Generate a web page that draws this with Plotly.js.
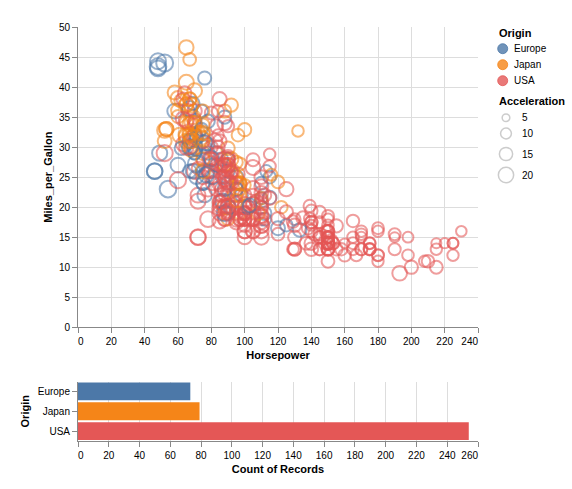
<!DOCTYPE html>
<html>
<head>
<meta charset="utf-8">
<script src="https://cdn.plot.ly/plotly-3.0.1.min.js"></script>
<style>html,body{margin:0;padding:0;background:#fff;}#chart{width:572px;height:489px;}</style>
</head>
<body>
<div id="chart"></div>
<script>
// ---- data ----
const origins = ['Europe', 'Japan', 'USA'];
const originColors = ['#4c78a8', '#f58518', '#e45756'];
const originCounts = [73, 79, 254];
const accelLegendValues = [5, 10, 15, 20];
const hpTicks = [0, 20, 40, 60, 80, 100, 120, 140, 160, 180, 200, 220, 240];
const mpgTicks = [0, 5, 10, 15, 20, 25, 30, 35, 40, 45, 50];
const countTicks = [0, 20, 40, 60, 80, 100, 120, 140, 160, 180, 200, 220, 240, 260];

const horsepower = [
130,165,150,150,140,198,220,215,225,190,
170,160,150,225,95,95,97,85,88,46,
87,90,95,113,90,215,200,210,193,88,
90,95,100,105,100,88,100,165,175,153,
150,180,170,175,110,72,100,88,86,90,
70,76,65,69,60,70,95,80,54,90,
86,165,175,150,153,150,208,155,160,190,
97,150,130,140,150,112,76,87,69,86,
92,97,80,88,175,150,145,137,150,198,
150,158,150,215,225,175,105,100,100,88,
95,46,150,167,170,180,100,88,72,94,
90,85,107,90,145,230,49,75,91,112,
150,110,122,180,95,100,100,67,80,65,
75,100,110,105,140,150,150,140,150,83,
67,78,52,61,75,75,75,97,93,67,
95,105,72,72,170,145,150,148,110,105,
110,95,110,110,129,75,83,100,78,96,
71,97,97,70,90,95,88,98,115,53,
86,81,92,79,83,140,150,120,152,100,
105,81,90,52,60,70,53,100,78,110,
95,71,70,75,72,102,150,88,108,120,
180,145,130,150,68,80,58,96,70,145,
110,145,130,110,105,100,98,180,170,190,
149,78,88,75,89,63,83,67,78,97,
110,110,48,66,52,70,60,110,140,139,
105,95,85,88,100,90,105,85,110,120,
145,165,139,140,68,95,97,75,95,105,
85,97,103,125,115,133,71,68,115,85,
88,90,110,130,129,138,135,155,142,125,
150,71,65,80,80,77,125,71,90,70,
70,65,69,90,115,115,90,76,60,70,
65,90,88,90,90,78,90,75,92,75,
65,105,65,48,48,67,67,67,67,62,
132,100,88,72,84,84,92,110,84,58,
64,60,67,65,62,68,63,65,65,74,
75,75,100,74,80,76,116,120,110,105,
88,85,88,88,88,85,84,90,92,74,
68,68,63,70,88,75,70,67,67,67,
110,85,92,112,96,84,90,86,52,84,
79,82];

const milesPerGallon = [
18,15,18,16,17,15,14,14,14,15,
15,14,15,14,24,22,18,21,27,26,
25,24,25,26,21,10,10,11,9,27,
28,25,19,16,17,19,18,14,14,14,
14,12,13,13,18,22,19,18,23,28,
30,30,31,35,27,26,24,25,23,20,
21,13,14,15,14,17,11,13,12,13,
19,15,13,13,14,18,22,21,26,22,
28,23,28,27,13,14,13,14,15,12,
13,13,14,13,12,13,18,16,18,18,
23,26,11,12,13,12,18,20,21,22,
18,19,21,26,15,16,29,24,20,19,
15,24,20,11,20,19,15,31,26,32,
25,16,16,18,16,13,14,14,14,29,
26,26,31,32,28,24,26,24,26,31,
19,18,15,15,16,15,16,14,17,16,
15,18,21,20,13,29,23,20,23,24,
25,24,18,29,19,23,23,22,25,33,
28,25,25,26,27,17.5,16,15.5,14.5,22,
22,24,22.5,29,24.5,29,33,20,18,18.5,
17.5,29.5,32,28,26.5,20,13,19,19,16.5,
16.5,13,13,13,31.5,30,36,25.5,33.5,17.5,
17,15.5,15,17.5,20.5,19,18.5,16,15.5,15.5,
16,29,24.5,26,25.5,30.5,33.5,30,30.5,22,
21.5,21.5,43.1,36.1,32.8,39.4,36.1,19.9,19.4,20.2,
19.2,20.5,20.2,25.1,20.5,19.4,20.6,20.8,18.6,18.1,
19.2,17.7,18.1,17.5,30,27.5,27.2,30.9,21.1,23.2,
23.8,23.9,20.3,17,21.6,16.2,31.5,29.5,21.5,19.8,
22.3,20.2,20.6,17,17.6,16.5,18.2,16.9,15.5,19.2,
18.5,31.9,34.1,35.7,27.4,25.4,23,27.2,23.9,34.2,
34.5,31.8,37.3,28.4,28.8,26.8,33.5,41.5,38.1,32.1,
37.2,28,26.4,24.3,19.1,34.3,29.8,31.3,37,32.2,
46.6,27.9,40.8,44.3,43.4,36.4,30,44.6,33.8,29.8,
32.7,23.7,35,32.4,27.2,26.6,25.8,23.5,30,39.1,
39,35.1,32.3,37,37.7,34.1,34.7,34.4,29.9,33,
33.7,32.4,32.9,31.6,28.1,30.7,25.4,24.2,22.4,26.6,
20.2,17.6,28,27,34,31,29,27,24,36,
37,31,38,36,36,36,34,38,32,38,
25,38,26,22,32,36,27,27,44,32,
28,31];

const acceleration = [
12,11.5,11,12,10.5,10,9,8.5,10,8.5,
10,8,9.5,10,15,15.5,15.5,16,14.5,20.5,
17.5,14.5,17.5,12.5,15,14,15,13.5,18.5,14.5,
15.5,14,13,15.5,15.5,15.5,15.5,12,11.5,13.5,
13,11.5,12,12,13.5,19,15,14.5,14,14,
20,14.5,19,18,19,20.5,15.5,17,23.5,19.5,
16.5,12,12,13.5,13,11.5,11,13.5,13.5,12.5,
13.5,12.5,14,16,14,14.5,18,19.5,18,16,
17,14.5,15,16.5,13,11.5,13,14.5,12.5,11.5,
12,13,14.5,11,11,11,16.5,18,16,16.5,
16,21,14,12.5,13,12.5,15,19,19.5,16.5,
13.5,18.5,14,15.5,13,9.5,19.5,15.5,14,15.5,
11,14,13.5,11,16.5,17,17,19,16.5,21,
17,17,18,16.5,14,14.5,13.5,16,15.5,16.5,
15.5,14.5,16.5,19,14.5,15.5,14,15,15.5,16,
16,16,21,19.5,11.5,14,14.5,13.5,21,18.5,
19,19,15,13.5,12,16,17,16,18.5,13.5,
16.5,17,14.5,14,17,15,17,14.5,13.5,17.5,
15.5,16.9,14.9,17.7,15.3,13,13,13.9,12.8,15.4,
14.5,17.6,17.6,22.2,22.1,14.2,17.4,17.7,21,16.2,
17.8,12.2,17,16.4,13.6,15.7,13.2,21.9,15.5,16.7,
12.1,12,15,14,18.5,14.8,18.6,15.5,16.8,12.5,
19,13.7,14.9,16.4,16.9,17.7,19,11.1,11.4,12.2,
14.5,14.5,16,18.2,15.8,17,15.9,16.4,14.1,14.5,
12.8,13.5,21.5,14.4,19.4,18.6,16.4,15.5,13.2,12.8,
19.2,18.2,15.8,15.4,17.2,17.2,15.8,16.7,18.7,15.1,
13.2,13.4,11.2,13.7,16.5,14.2,14.7,14.5,14.8,16.7,
17.6,14.9,15.9,13.6,15.7,15.8,14.9,16.6,15.4,18.2,
17.3,18.2,16.6,15.4,13.4,13.2,15.2,14.9,14.3,15,
13,14,15.2,14.4,15,20.1,17.4,24.8,22.2,13.2,
14.9,19.2,14.7,16,11.3,12.9,13.2,14.7,18.8,15.5,
16.4,16.5,18.1,20.1,18.7,15.8,15.5,17.5,15,15.2,
17.9,14.4,19.2,21.7,23.7,19.9,21.8,13.8,18,15.3,
11.4,12.5,15.1,17,15.7,16.4,14.9,16.6,15.4,16.9,
15.4,14.5,17.6,17.6,16.4,16.1,17.9,19.2,17.3,14.2,
14.4,16.8,14.8,18.3,20.4,19.6,12.6,13.8,15.8,19,
17.1,16.6,19.6,18.6,18,16.2,16,18,16.4,15.3,
18.2,17.6,14.7,17.3,14.5,14.5,16.9,15,15.7,16.2,
16.4,17,14.5,14.7,13.9,13,17.3,15.6,24.6,11.6,
18.6,19.4];

// index into origins
const originIndex = [
2,2,2,2,2,2,2,2,2,2,
2,2,2,2,1,2,2,2,1,0,
0,0,0,0,2,2,2,2,2,1,
2,1,2,2,2,2,2,2,2,2,
2,2,2,2,2,2,2,2,2,0,
0,0,1,1,0,2,1,2,0,2,
2,2,2,2,2,2,2,2,2,2,
1,2,2,2,2,0,0,0,0,2,
1,1,2,1,2,2,2,2,2,2,
2,2,2,2,2,2,2,2,2,2,
2,0,2,2,2,2,2,1,2,1,
1,2,2,0,2,2,0,0,0,0,
2,0,1,2,2,2,2,1,2,1,
2,2,2,2,2,2,2,2,2,0,
0,0,1,1,2,0,0,1,1,0,
2,2,2,2,2,2,2,2,2,2,
2,2,2,2,2,1,2,2,2,1,
0,1,2,0,2,0,0,0,0,1,
0,0,2,2,0,2,2,2,2,2,
2,2,2,2,2,0,1,2,2,2,
2,0,1,1,2,0,2,0,1,0,
2,2,2,2,1,2,0,2,1,2,
2,2,2,2,2,2,2,2,2,2,
2,0,2,1,2,2,2,1,0,1,
0,1,0,2,1,1,1,2,2,2,
2,2,2,2,2,2,2,2,2,2,
2,2,2,2,2,1,1,2,1,2,
2,1,0,0,0,0,0,1,2,2,
2,2,2,2,2,2,2,2,2,2,
2,0,1,2,2,0,2,0,2,2,
2,1,0,2,2,2,2,0,1,2,
1,2,2,2,2,0,1,1,1,1,
1,2,1,0,0,0,0,1,1,0,
1,1,0,1,2,2,2,2,2,1,
2,1,1,1,1,1,2,2,2,0,
1,1,1,1,0,0,1,1,2,2,
2,2,2,2,2,2,2,2,2,0,
1,1,2,2,1,1,1,1,1,1,
2,2,2,2,1,2,2,2,0,2,
2,2];

// ---- helpers (styling / positioning) ----
function hexToRgba(hex, a) {
  const n = parseInt(hex.slice(1), 16);
  return 'rgba(' + ((n >> 16) & 255) + ',' + ((n >> 8) & 255) + ',' + (n & 255) + ',' + a + ')';
}
const FONT = 'Liberation Sans, Arial, Helvetica, sans-serif';
const W = 572, H = 489;
const M = {l: 78, r: 94, t: 27, b: 48};
const PW = W - M.l - M.r, PH = H - M.t - M.b;
const px = x => (x - M.l) / PW;
const py = y => (H - M.b - y) / PH;
const SIZE_REF = 0.171;
const sizeDiameter = v => 2 * Math.sqrt(v / (2 * SIZE_REF));
const tickFont = {family: FONT, size: 10, color: '#000'};
const titleFont = {family: FONT, size: 11, color: '#000', weight: 'bold'};
// first/last labels of a continuous x axis are drawn flush with the axis ends:
// pad the centred label with no-break spaces (one per digit) on the far side
const NBSP = '\u00a0';
const flushText = ticks => ticks.map((t, i) => {
  const s = String(t);
  if (i === 0) return NBSP.repeat(s.length * 2) + s;
  if (i === ticks.length - 1) return s + NBSP.repeat(s.length * 2);
  return s;
});

// ---- traces ----
const scatter = {
  type: 'scatter',
  mode: 'markers',
  x: horsepower,
  y: milesPerGallon,
  xaxis: 'x', yaxis: 'y',
  hoverinfo: 'x+y',
  marker: {
    symbol: 'circle',
    size: acceleration,
    sizemode: 'area',
    sizeref: SIZE_REF,
    color: 'rgba(0,0,0,0)',
    line: {width: 2, color: originIndex.map(i => hexToRgba(originColors[i], 0.82))}
  },
  showlegend: false
};

const bars = {
  type: 'bar',
  orientation: 'h',
  x: originCounts,
  y: origins,
  xaxis: 'x2', yaxis: 'y2',
  marker: {color: originColors},
  showlegend: false
};

const axisCommon = {
  showline: true, linecolor: '#888', linewidth: 1,
  ticks: 'outside', ticklen: 5, tickcolor: '#888', tickwidth: 1,
  gridcolor: '#ddd', gridwidth: 1, zeroline: false,
  tickfont: tickFont
};

// ---- legend (shapes + annotations) ----
const shapes = [];
const annotations = [];
annotations.push({xref: 'paper', yref: 'paper', x: px(497), y: py(33), xanchor: 'left', yanchor: 'middle',
  text: 'Origin', showarrow: false, font: titleFont});
origins.forEach((o, i) => {
  const cy = 48.7 + i * 16;
  shapes.push({type: 'circle', xref: 'paper', yref: 'paper', xsizemode: 'pixel', ysizemode: 'pixel',
    xanchor: px(502.7), yanchor: py(cy), x0: -5, x1: 5, y0: -5, y1: 5,
    fillcolor: hexToRgba(originColors[i], 0.8), line: {color: hexToRgba(originColors[i], 0.8), width: 1}});
  annotations.push({xref: 'paper', yref: 'paper', x: px(512), y: py(cy), xanchor: 'left', yanchor: 'middle',
    text: o, showarrow: false, font: tickFont});
});
annotations.push({xref: 'paper', yref: 'paper', x: px(497), y: py(101), xanchor: 'left', yanchor: 'middle',
  text: 'Acceleration', showarrow: false, font: titleFont});
const sizeYs = [117.7, 133.5, 154, 175];
accelLegendValues.forEach((v, i) => {
  const r = sizeDiameter(v) / 2;
  shapes.push({type: 'circle', xref: 'paper', yref: 'paper', xsizemode: 'pixel', ysizemode: 'pixel',
    xanchor: px(506), yanchor: py(sizeYs[i]), x0: -r, x1: r, y0: -r, y1: r,
    fillcolor: 'rgba(0,0,0,0)', line: {color: 'rgba(170,170,170,0.6)', width: 1.5}});
  annotations.push({xref: 'paper', yref: 'paper', x: px(519.5), y: py(sizeYs[i]), xanchor: 'left', yanchor: 'middle',
    text: String(v), showarrow: false, font: tickFont});
});

const layout = {
  width: W, height: H,
  margin: M,
  paper_bgcolor: '#fff', plot_bgcolor: '#fff',
  font: {family: FONT, size: 10, color: '#000'},
  showlegend: false,
  bargap: 0.1,
  xaxis: Object.assign({}, axisCommon, {
    domain: [0, 1], anchor: 'y', range: [0, 240],
    tickmode: 'array', tickvals: hpTicks, ticktext: flushText(hpTicks),
    title: {text: 'Horsepower', font: titleFont, standoff: 5}
  }),
  yaxis: Object.assign({}, axisCommon, {
    domain: [py(327.3), 1], anchor: 'x', range: [0, 50],
    tickmode: 'array', tickvals: mpgTicks, ticktext: mpgTicks.map(String),
    title: {text: 'Miles_per_Gallon', font: titleFont, standoff: 4}
  }),
  xaxis2: Object.assign({}, axisCommon, {
    domain: [0, 1], anchor: 'y2', range: [0, 260],
    tickmode: 'array', tickvals: countTicks, ticktext: flushText(countTicks),
    title: {text: 'Count of Records', font: titleFont, standoff: 5}
  }),
  yaxis2: Object.assign({}, axisCommon, {
    domain: [0, py(381.5)], anchor: 'x2', type: 'category',
    categoryorder: 'array', categoryarray: origins, autorange: 'reversed',
    showgrid: false,
    title: {text: 'Origin', font: titleFont, standoff: 5}
  }),
  shapes: shapes,
  annotations: annotations
};

Plotly.newPlot('chart', [scatter, bars], layout, {displayModeBar: false, staticPlot: true});
</script>
</body>
</html>
